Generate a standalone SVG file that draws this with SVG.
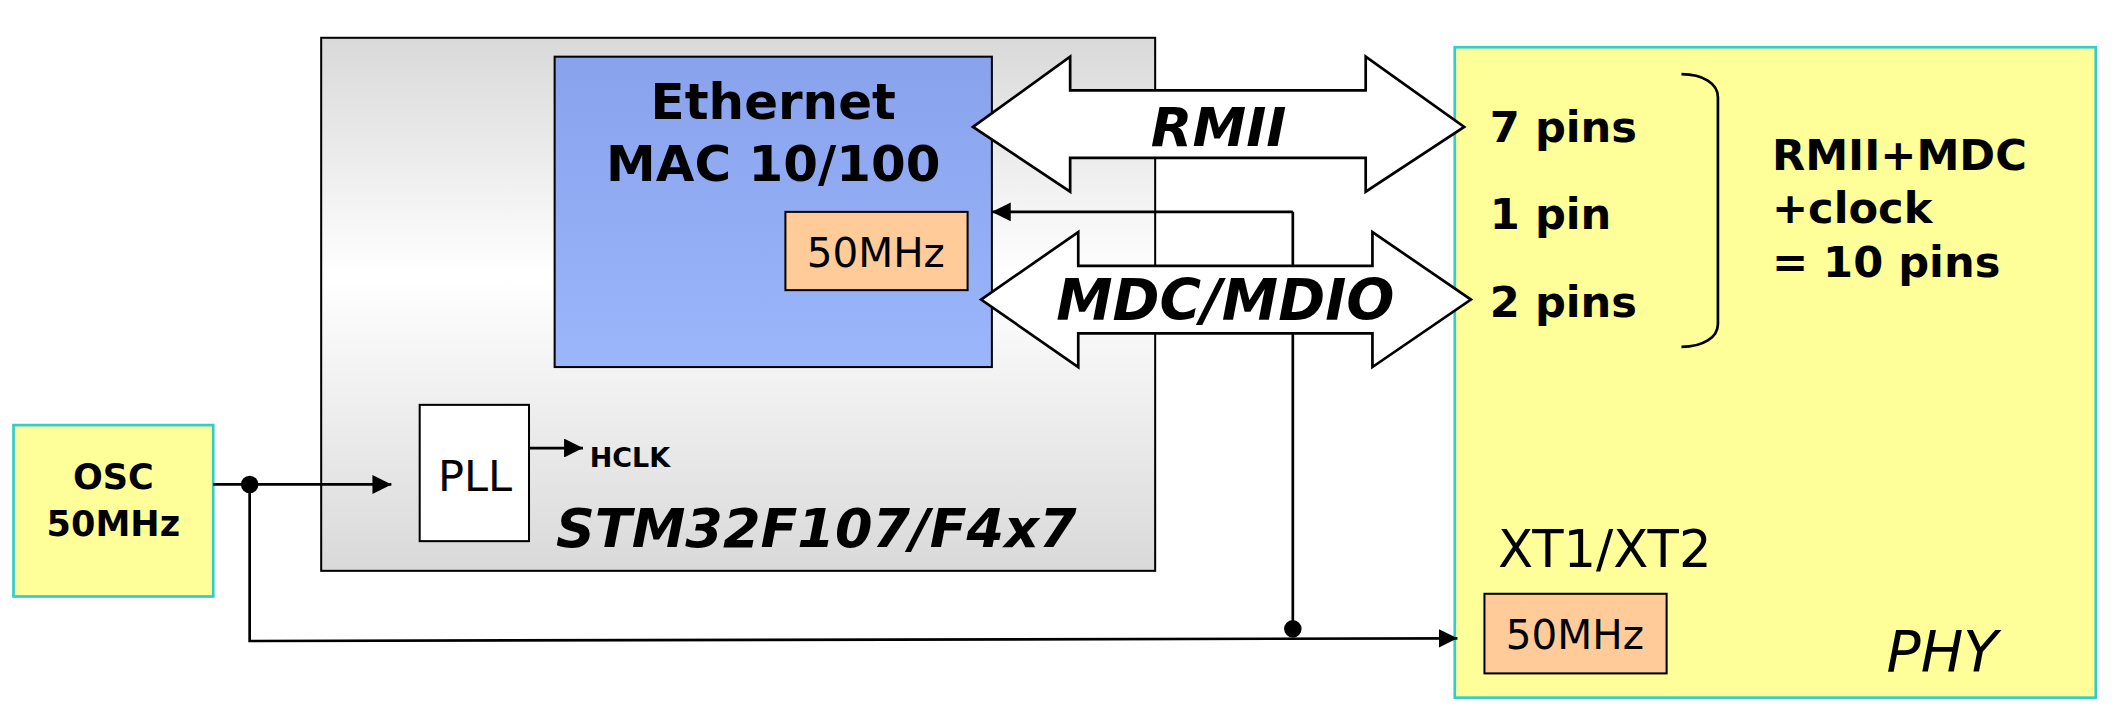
<svg xmlns="http://www.w3.org/2000/svg" width="2116" height="711" viewBox="0 0 2116 711">
<style>
text{font-family:"DejaVu Sans","Noto Sans",sans-serif;fill:#000}
.b{font-weight:bold}
.bi{font-weight:bold;font-style:italic}
.ln{stroke:#000;stroke-width:2;fill:none}
.ye{fill:#ffff99;stroke:#33cccc;stroke-width:2}
.or{fill:#ffcc99;stroke:#000;stroke-width:1.5}
.ar{fill:#fff;stroke:#000;stroke-width:2}
</style>
<defs>
<linearGradient id="g" x1="0" y1="0" x2="0" y2="1"><stop offset="0" stop-color="#d9d9d9"/><stop offset="0.45" stop-color="#fff"/><stop offset="1" stop-color="#d9d9d9"/></linearGradient>
<linearGradient id="bl" x1="0" y1="0" x2="0" y2="1"><stop offset="0" stop-color="#88a2ec"/><stop offset="1" stop-color="#9cb6fc"/></linearGradient>
<marker id="A" viewBox="0 0 10 10" refX="10" refY="5" markerWidth="14" markerHeight="14" markerUnits="userSpaceOnUse" orient="auto"><path d="M0,0L10,5L0,10z" fill="#000"/></marker>
</defs>
<g transform="scale(1.3495)">
<g id="stm32"><rect x="238" y="28" width="618" height="395" fill="url(#g)" stroke="#000" stroke-width="1.5"/>
<text x="412" y="405" class="bi" font-size="40">STM32F107/F4x7</text></g>
<g id="mac"><rect x="411" y="42" width="324" height="230" fill="url(#bl)" stroke="#000" stroke-width="1.5"/>
<text x="573" y="88" class="b" font-size="37" text-anchor="middle">Ethernet</text>
<text x="573" y="134" class="b" font-size="37" text-anchor="middle">MAC 10/100</text></g>
<g id="mac50"><rect x="582" y="157" width="135" height="58" class="or"/><text x="649" y="198" font-size="30" text-anchor="middle">50MHz</text></g>
<g id="phy"><rect x="1078" y="35" width="475" height="482" class="ye"/>
<text x="1104" y="105" class="b" font-size="32">7 pins</text>
<text x="1104" y="170" class="b" font-size="32">1 pin</text>
<text x="1104" y="235" class="b" font-size="32">2 pins</text>
<path d="M1246,55 C1262,55 1273,62 1273,72 L1273,240 C1273,250 1262,257 1246,257" class="ln" stroke-width="1.5"/>
<text x="1313" y="126" class="b" font-size="32">RMII+MDC</text>
<text x="1313" y="165" class="b" font-size="32">+clock</text>
<text x="1313" y="205" class="b" font-size="32">= 10 pins</text>
<text x="1110" y="420" font-size="38">XT1/XT2</text>
<text x="1398" y="498" font-size="42" font-style="italic">PHY</text></g>
<g id="phy50"><rect x="1100" y="440" width="135" height="59" class="or"/><text x="1167" y="481" font-size="30" text-anchor="middle">50MHz</text></g>
<g id="osc"><rect x="10" y="315" width="148" height="127" class="ye"/>
<text x="84" y="362" class="b" font-size="26" text-anchor="middle">OSC</text>
<text x="84" y="397" class="b" font-size="26" text-anchor="middle">50MHz</text></g>
<g id="pll"><rect x="311" y="300" width="81" height="101" fill="#fff" stroke="#000" stroke-width="1.5"/>
<text x="352" y="364" font-size="32" text-anchor="middle">PLL</text></g>
<g id="connectors">
<polygon points="721,94 793,42 793,67 1012,67 1012,42 1085,94 1012,142 1012,117 793,117 793,142" class="ar"/>
<text x="903" y="108" class="bi" font-size="40" text-anchor="middle">RMII</text>
<line x1="958" y1="157" x2="735" y2="157" class="ln" marker-end="url(#A)"/>
<line x1="958" y1="157" x2="958" y2="466" class="ln"/>
<circle cx="958" cy="466" r="6.5"/>
<polygon points="727,222 799,172 799,197 1017,197 1017,172 1090,222 1017,272 1017,247 799,247 799,272" class="ar"/>
<text x="908" y="237" class="bi" font-size="42" text-anchor="middle">MDC/MDIO</text>
<line x1="392" y1="332" x2="432" y2="332" class="ln" marker-end="url(#A)"/>
<text x="437" y="346" class="b" font-size="20">HCLK</text>
<line x1="158" y1="359" x2="290" y2="359" class="ln" marker-end="url(#A)"/>
<circle cx="185" cy="359" r="6.5"/>
<polyline points="185,359 185,475 1080,473" class="ln" marker-end="url(#A)"/>
</g>
</g>
</svg>
